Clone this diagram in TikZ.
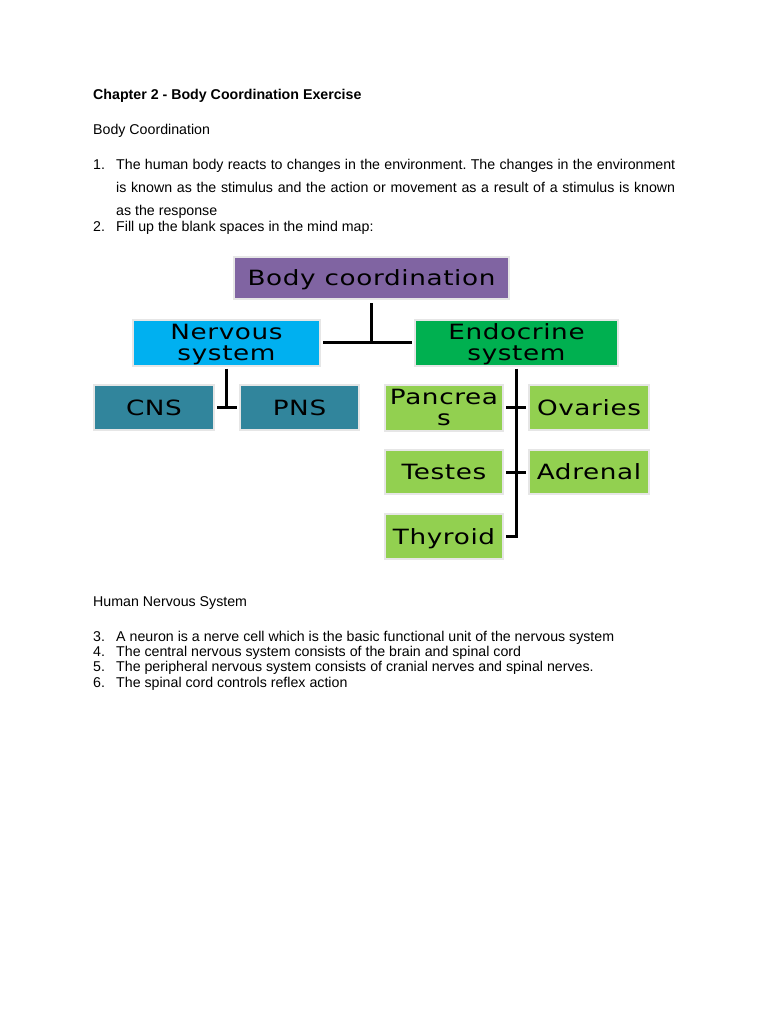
\documentclass[tikz,border=0pt]{standalone}
\usepackage{fontspec}
\setmainfont{Liberation Sans}
\newfontfamily\dv[FakeStretch=1.25,LetterSpace=3]{DejaVu Sans}
\definecolor{cpurple}{HTML}{8064A2}
\definecolor{ccyan}{HTML}{00B0F0}
\definecolor{cgreen}{HTML}{00B050}
\definecolor{cteal}{HTML}{31859C}
\definecolor{clight}{HTML}{92D050}
\definecolor{halo}{HTML}{E6E6E6}
\frenchspacing
\begin{document}
\begin{tikzpicture}[x=1pt,y=-1pt,
  box/.style={draw=halo, line width=2pt, inner sep=0pt, align=center,
    font=\dv\fontsize{21}{21.5}\selectfont, text=black},
  one/.style={box, text height=15.4pt, text depth=0pt},
  two/.style={box, text height=41pt, text depth=5pt},
  conn/.style={draw=black, line width=3pt},
  txt/.style={anchor=base west, inner sep=0pt, font=\fontsize{14.2}{16}\selectfont},
  btxt/.style={anchor=base west, inner sep=0pt, font=\bfseries\fontsize{14.2}{16}\selectfont}]
\fill[white] (0,0) rectangle (768,1024);
\useasboundingbox (0,0) rectangle (768,1024);

% text
\node[btxt] (title) at (93,100) {Chapter 2 - Body Coordination Exercise};
\node[txt] (sub1) at (93,135) {Body Coordination};
\node[txt] (n1) at (93,170) {1.};
\node[txt] (l1a) at (116,170) {\makebox[559pt][s]{The human body reacts to changes in the environment. The changes in the environment}};
\node[txt] (l1b) at (116,193) {\makebox[559pt][s]{is known as the stimulus and the action or movement as a result of a stimulus is known}};
\node[txt] (l1c) at (116,216) {as the response};
\node[txt] (n2) at (93,232) {2.};
\node[txt] (l2) at (116,232) {Fill up the blank spaces in the mind map:};

\node[txt] (sub2) at (93,606) {Human Nervous System};
\node[txt] (n3) at (93,641) {3.};
\node[txt] (l3) at (116,641) {A neuron is a nerve cell which is the basic functional unit of the nervous system};
\node[txt] (n4) at (93,656) {4.};
\node[txt] (l4) at (116,656) {The central nervous system consists of the brain and spinal cord};
\node[txt] (n5) at (93,671) {5.};
\node[txt] (l5) at (116,671) {The peripheral nervous system consists of cranial nerves and spinal nerves.};
\node[txt] (n6) at (93,687) {6.};
\node[txt] (l6) at (116,687) {The spinal cord controls reflex action};

% mind map
\node[one, fill=cpurple, minimum width=275, minimum height=42] (body) at (371.5,278) {Body coordination};
\node[two, fill=ccyan, minimum width=187, minimum height=45] (nerv) at (226.5,342.5) {Nervous\\system};
\node[two, fill=cgreen, minimum width=203, minimum height=45] (endo) at (516.5,342.5) {Endocrine\\system};
\node[one, fill=cteal, minimum width=120, minimum height=45] (cns) at (154,407.5) {CNS};
\node[one, fill=cteal, minimum width=119, minimum height=45] (pns) at (299.5,407.5) {PNS};
\node[two, fill=clight, minimum width=118, minimum height=45] (pan) at (444,407.5) {Pancrea\\s};
\node[one, fill=clight, minimum width=120, minimum height=45] (ova) at (589,407.5) {Ovaries};
\node[one, fill=clight, minimum width=118, minimum height=44] (tes) at (444,472) {Testes};
\node[one, fill=clight, minimum width=120, minimum height=44] (adr) at (589,472) {Adrenal};
\node[one, fill=clight, minimum width=118, minimum height=45] (thy) at (444,536.5) {Thyroid};

\coordinate (j1) at (body.south |- nerv.east);
\draw[conn] ([yshift=-3]body.south) -- (j1);
\draw[conn] ([xshift=2]nerv.east) -- ([xshift=-2]endo.west);
\draw[conn] ([yshift=-2]nerv.south) -- (nerv.south |- cns.east);
\draw[conn] ([xshift=2]cns.east) -- ([xshift=-2]pns.west);
\draw[conn] ([yshift=-2]endo.south) |- ([xshift=2]thy.east);
\draw[conn] ([xshift=2]pan.east) -- ([xshift=-2]ova.west);
\draw[conn] ([xshift=2]tes.east) -- ([xshift=-2]adr.west);
\end{tikzpicture}
\end{document}
